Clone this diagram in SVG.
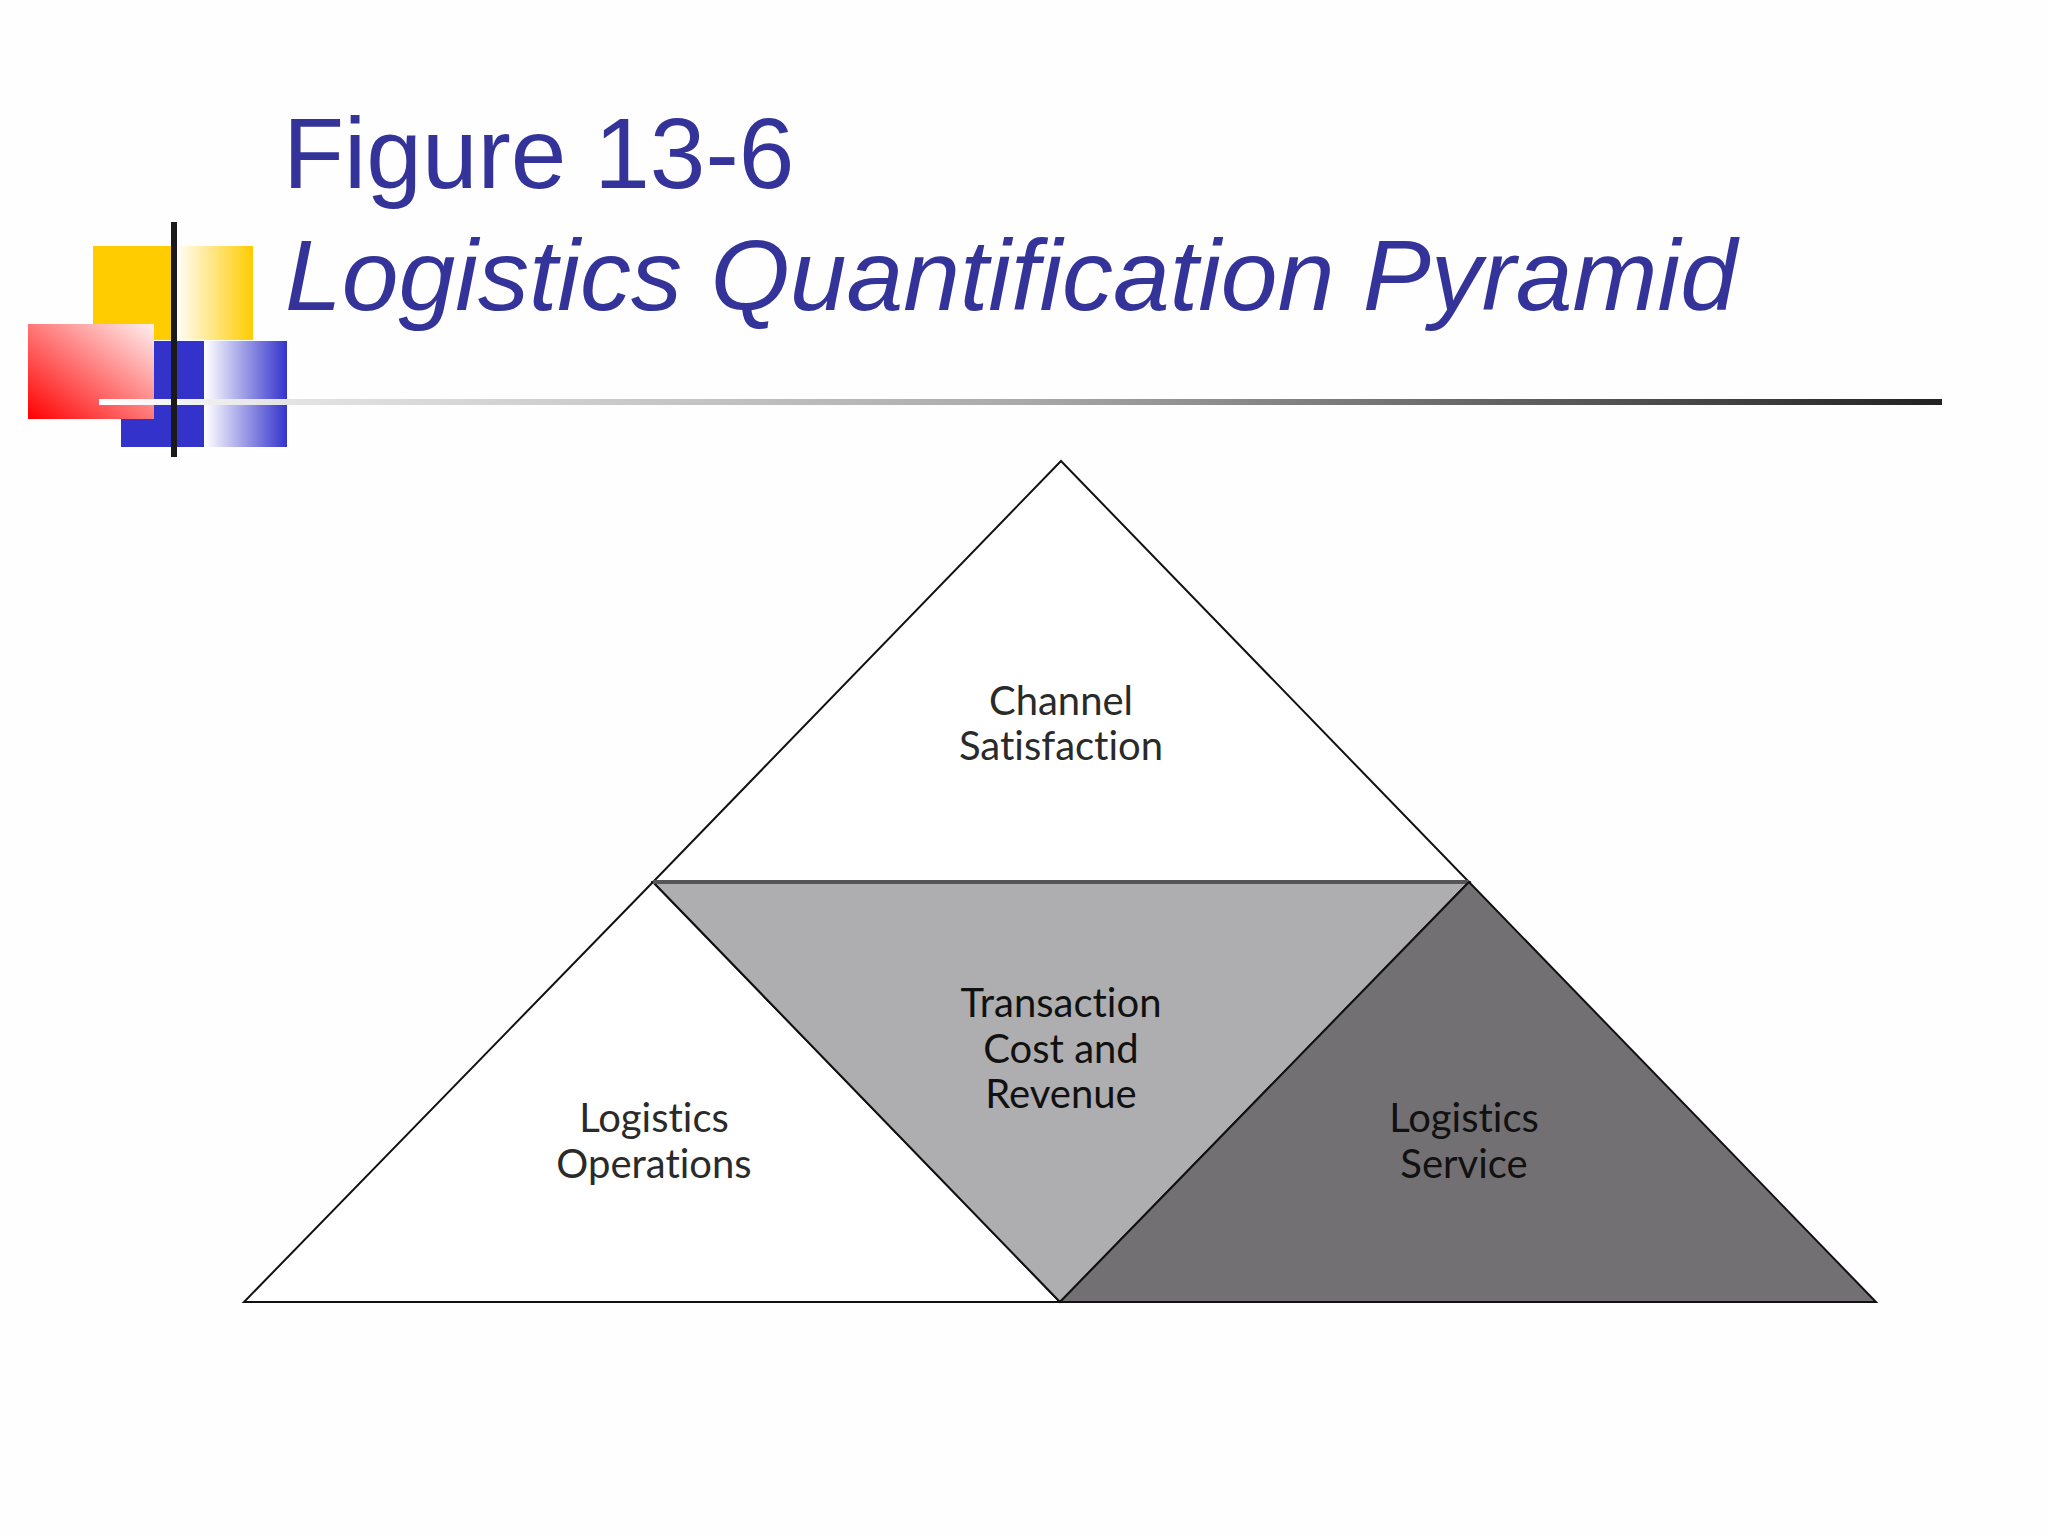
<svg xmlns="http://www.w3.org/2000/svg" width="2048" height="1536" viewBox="0 0 2048 1536">
<defs>
<linearGradient id="gYellow" x1="0" y1="0" x2="1" y2="0">
<stop offset="0" stop-color="#FFFFFF"/>
<stop offset="1" stop-color="#FFCC00"/>
</linearGradient>
<linearGradient id="gBlue" x1="0" y1="0" x2="1" y2="0">
<stop offset="0" stop-color="#FFFFFF"/>
<stop offset="1" stop-color="#3333CC"/>
</linearGradient>
<linearGradient id="gRed" x1="0" y1="1" x2="1" y2="0">
<stop offset="0" stop-color="#FF0000"/>
<stop offset="1" stop-color="#FFF0F0"/>
</linearGradient>
<linearGradient id="gRule" gradientUnits="userSpaceOnUse" x1="99" y1="0" x2="1942" y2="0">
<stop offset="0" stop-color="#FFFFFF"/>
<stop offset="0.1" stop-color="#E4E4E4"/>
<stop offset="0.5" stop-color="#AAAAAA"/>
<stop offset="1" stop-color="#222222"/>
</linearGradient>
</defs>
<style>
.title{font-family:"Liberation Sans",Arial,sans-serif;fill:#333399;font-size:100px}
.lbl{font-family:Lato,"DejaVu Sans",sans-serif;font-size:40px;text-anchor:middle;font-variant-ligatures:none}
.edge{stroke:#111;stroke-width:2;stroke-linejoin:miter}
.white{fill:#FFFFFF}
.light{fill:#AEADB0}
.dark{fill:#727073}
</style>
<rect width="2048" height="1536" fill="#FEFEFF"/>

<g id="logo">
<rect x="93" y="246" width="82" height="94" fill="#FFCC00"/>
<rect x="175" y="246" width="78" height="94" fill="url(#gYellow)"/>
<rect x="121" y="341" width="83" height="106" fill="#3333CC"/>
<rect x="205" y="341" width="82" height="106" fill="url(#gBlue)"/>
<rect x="28" y="324" width="126" height="95" fill="url(#gRed)"/>
<rect x="99" y="399" width="1843" height="6" fill="url(#gRule)"/>
<rect x="171" y="222" width="6" height="235" fill="#1A1A1A"/>
</g>

<g id="title">
<text class="title" x="283" y="188">Figure 13-6</text>
<text class="title" x="285" y="310" font-style="italic" textLength="1452" lengthAdjust="spacingAndGlyphs">Logistics Quantification Pyramid</text>
</g>

<g id="channel-satisfaction">
<polygon points="1061,461 1469,882 653,882" class="edge white"/>
<text class="lbl" x="1061" y="715" fill="#2A2A2A">Channel</text>
<text class="lbl" x="1061" y="760" fill="#2A2A2A">Satisfaction</text>
</g>

<g id="logistics-operations">
<polygon points="653,882 1060,1302 244,1302" class="edge white"/>
<text class="lbl" x="654" y="1132" fill="#2A2A2A">Logistics</text>
<text class="lbl" x="654" y="1178" fill="#2A2A2A">Operations</text>
</g>

<g id="transaction-cost-revenue">
<polygon points="653,882 1469,882 1060,1302" class="edge light"/>
<line x1="653" y1="882" x2="1469" y2="882" stroke="#555" stroke-width="4"/>
<text class="lbl" x="1061" y="1017" fill="#111">Transaction</text>
<text class="lbl" x="1061" y="1063" fill="#111">Cost and</text>
<text class="lbl" x="1061" y="1108" fill="#111">Revenue</text>
</g>

<g id="logistics-service">
<polygon points="1469,882 1876,1302 1060,1302" class="edge dark"/>
<text class="lbl" x="1464" y="1132" fill="#111">Logistics</text>
<text class="lbl" x="1464" y="1178" fill="#111">Service</text>
</g>

<g id="connectors"></g>
</svg>
